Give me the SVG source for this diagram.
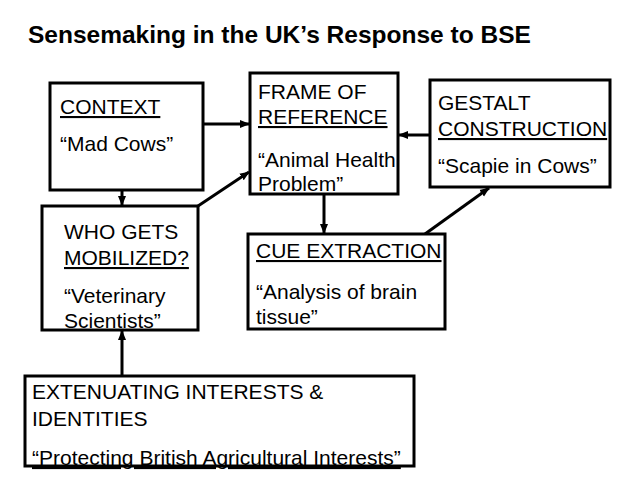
<svg xmlns="http://www.w3.org/2000/svg" width="638" height="478" viewBox="0 0 638 478">
<defs>
<marker id="ah" markerWidth="10" markerHeight="10" refX="9" refY="5" orient="auto" markerUnits="userSpaceOnUse"><path d="M0,1 L10,5 L0,9 z" fill="#000"/></marker>
<style>
.b{fill:#fff;stroke:#000;stroke-width:3}
.t{font-family:"Liberation Sans",Arial,sans-serif;font-size:21px;fill:#000}
.u{text-decoration:underline}
.c{stroke:#000;stroke-width:3;fill:none;marker-end:url(#ah)}
</style>
</defs>
<rect width="638" height="478" fill="#fff"/>
<text x="28" y="43" font-family="Liberation Sans,Arial,sans-serif" font-size="24.5" font-weight="bold">Sensemaking in the UK’s Response to BSE</text>
<g id="connectors">
<line class="c" x1="203" y1="124" x2="249" y2="124"/>
<line class="c" x1="430" y1="135" x2="399" y2="135"/>
<line class="c" x1="122" y1="190" x2="122" y2="205"/>
<line class="c" x1="198" y1="206" x2="249" y2="172"/>
<line class="c" x1="324" y1="194" x2="324" y2="233"/>
<line class="c" x1="425" y1="234" x2="489" y2="188"/>
<line class="c" x1="122" y1="376" x2="122" y2="331"/>
</g>
<g id="context"><rect class="b" x="50" y="83" width="153" height="107"/>
<text class="t u" x="60" y="114">CONTEXT</text><text class="t" x="60" y="151">“Mad Cows”</text></g>
<g id="frame"><rect class="b" x="250" y="73" width="148" height="121"/>
<text class="t" x="258" y="99">FRAME OF</text><text class="t u" x="258" y="124">REFERENCE</text>
<text class="t" x="258" y="167">“Animal Health</text><text class="t" x="258" y="191">Problem”</text></g>
<g id="gestalt"><rect class="b" x="430" y="80" width="180" height="107"/>
<text class="t" x="438" y="110">GESTALT</text><text class="t u" x="438" y="136">CONSTRUCTION</text>
<text class="t" x="438" y="173">“Scapie in Cows”</text></g>
<g id="who"><rect class="b" x="42" y="206" width="156" height="124"/>
<text class="t" x="64" y="239">WHO GETS</text><text class="t u" x="64" y="265">MOBILIZED?</text>
<text class="t" x="64" y="303">“Veterinary</text><text class="t" x="64" y="328">Scientists”</text></g>
<g id="cue"><rect class="b" x="248" y="234" width="197" height="95"/>
<text class="t u" x="256" y="258">CUE EXTRACTION</text>
<text class="t" x="256" y="299">“Analysis of brain</text><text class="t" x="256" y="324">tissue”</text></g>
<g id="ext"><rect class="b" x="25" y="376" width="389" height="90"/>
<text class="t" x="32" y="399">EXTENUATING INTERESTS &amp;</text><text class="t" x="32" y="426">IDENTITIES</text>
<text class="t u" x="32" y="465">“Protecting British Agricultural Interests”</text></g>
</svg>
